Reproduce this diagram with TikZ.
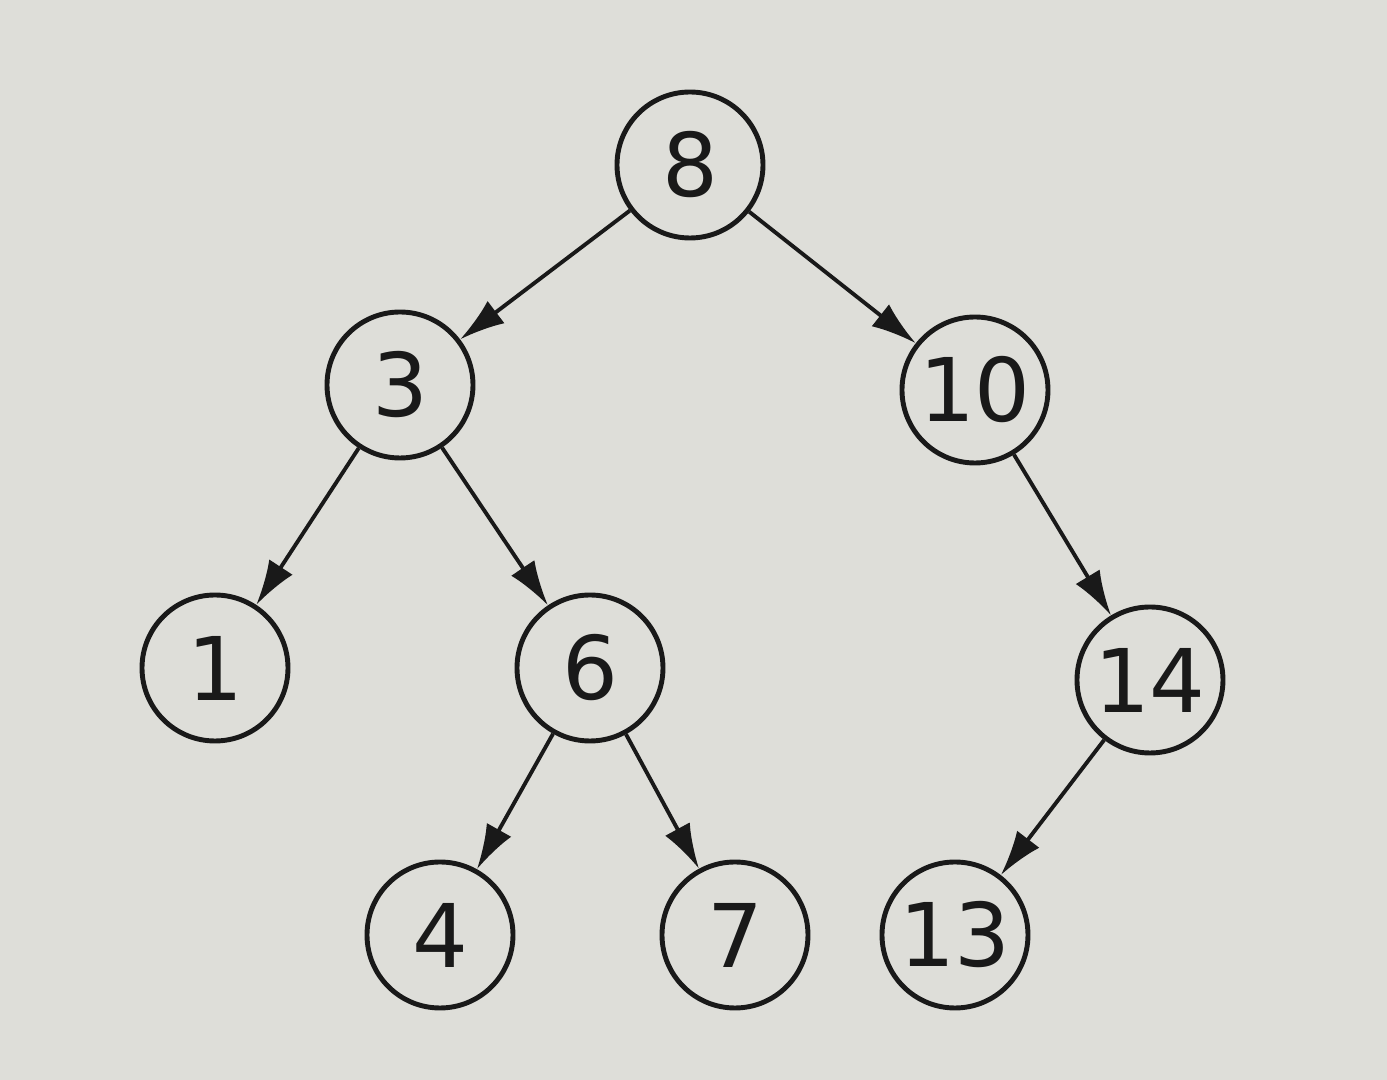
\documentclass[tikz,border=0pt]{standalone}
\usepackage{fontspec}
\setmainfont{DejaVu Sans}
\usetikzlibrary{arrows.meta}
\definecolor{paper}{RGB}{222,222,217}
\definecolor{ink}{RGB}{25,25,25}
\tikzset{/BST/key/.style={
	shape=circle, draw=ink, line width=1.4pt, minimum size=1.46cm, inner sep=0pt,
	font=\fontsize{25}{30}\selectfont, text=ink
}}
\tikzset{/BST/edge/.style={
	draw=ink, line width=1.1pt, -{Latex[length=0.45cm, width=0.28cm]}
}}

\begin{document}
\begin{tikzpicture}
				\fill[paper] (0,0) rectangle (13.87,-10.80);
				\useasboundingbox (0,0) rectangle (13.87,-10.80);
				\path (6.90,-1.65) node[/BST/key] (n8) {8};
				\path (n8.center) ++ (-2.90, -2.20) node[/BST/key] (n3) {3};
				\path (n8.center) ++ (2.85, -2.25) node[/BST/key] (n10) {10};
				\path (n3.center) ++ (-1.85, -2.83) node[/BST/key] (n1) {1};
				\path (n3.center) ++ (1.90, -2.83) node[/BST/key] (n6) {6};
				\path (n10.center) ++ (1.75, -2.90) node[/BST/key] (n14) {14};
				\path (n6.center) ++ (-1.50, -2.67) node[/BST/key] (n4) {4};
				\path (n6.center) ++ (1.45, -2.67) node[/BST/key] (n7) {7};
				\path (n14.center) ++ (-1.95, -2.55) node[/BST/key] (n13) {13};
				\draw[/BST/edge] (n8) -- (n3);
				\draw[/BST/edge] (n8) -- (n10);
				\draw[/BST/edge] (n3) -- (n1);
				\draw[/BST/edge] (n3) -- (n6);
				\draw[/BST/edge] (n10) -- (n14);
				\draw[/BST/edge] (n6) -- (n4);
				\draw[/BST/edge] (n6) -- (n7);
				\draw[/BST/edge] (n14) -- (n13);
			\end{tikzpicture}
\end{document}
